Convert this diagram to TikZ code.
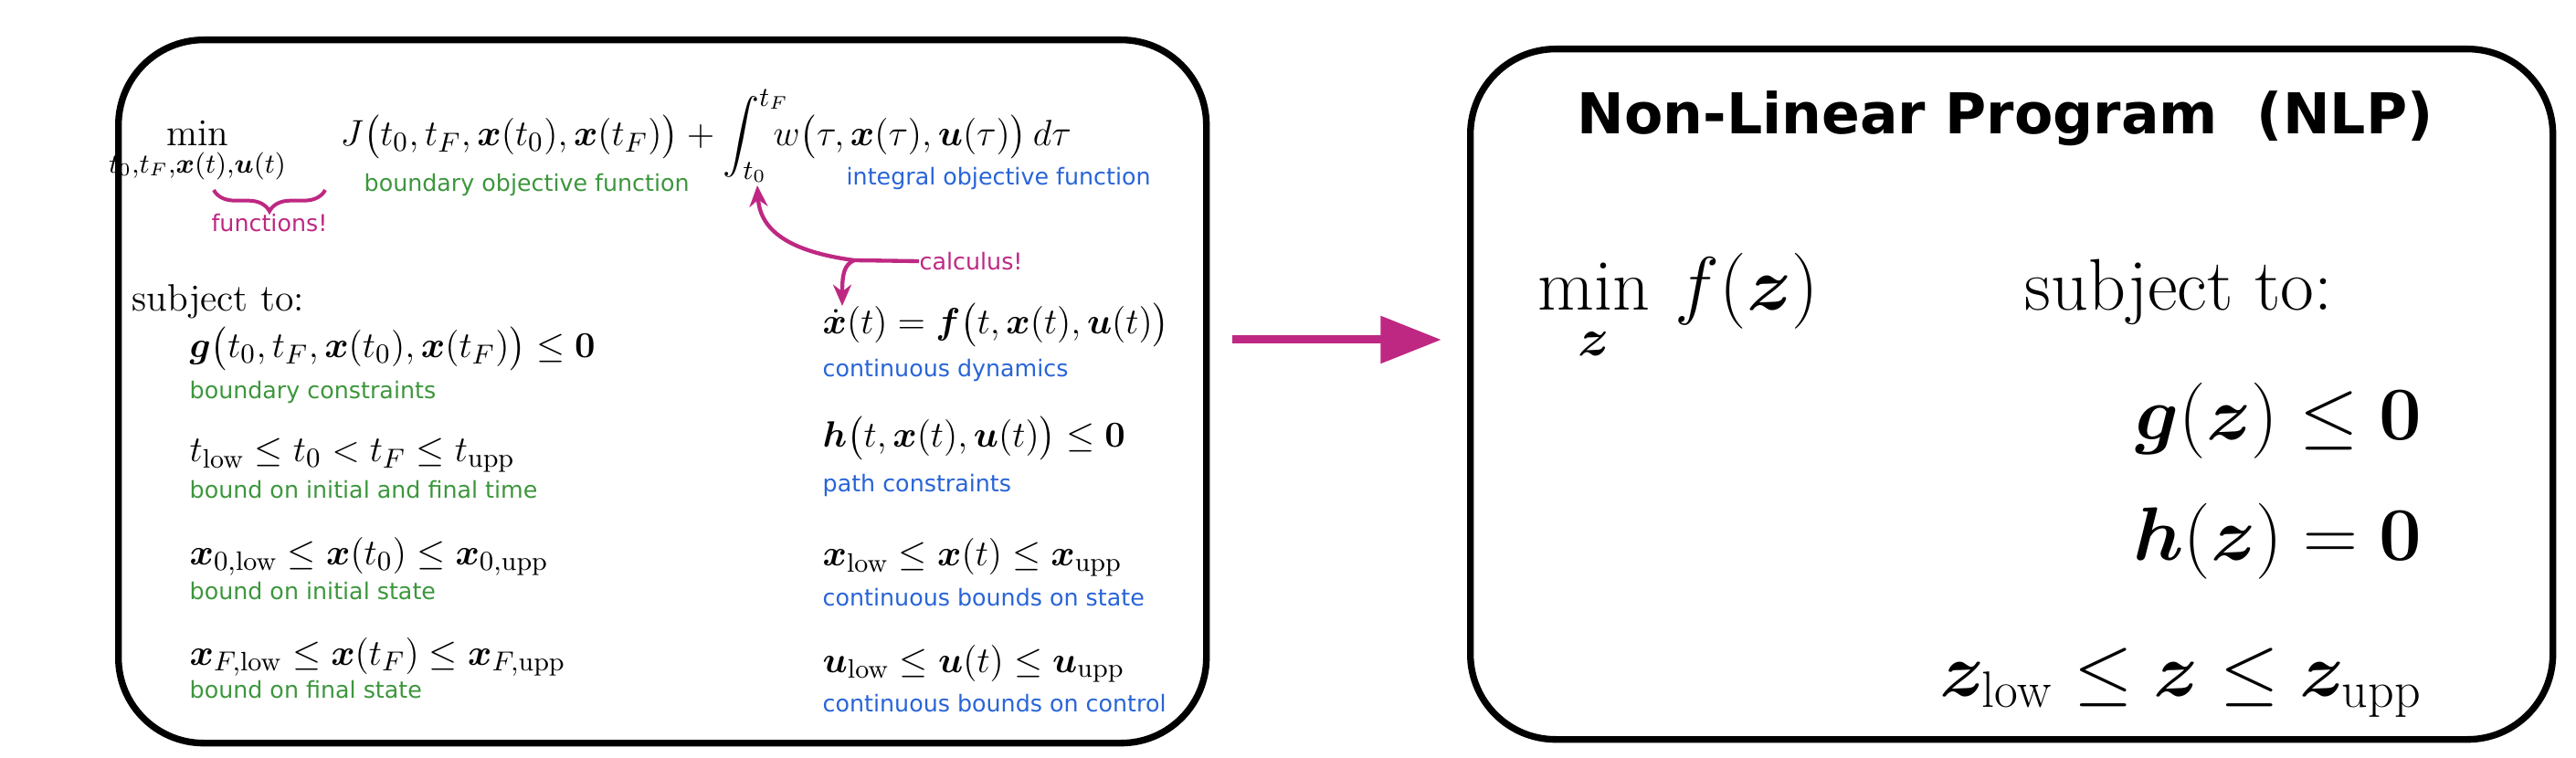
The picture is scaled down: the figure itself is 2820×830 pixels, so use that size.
\documentclass[tikz,border=0pt]{standalone}
\usepackage{amsmath,bm}
\usepackage{fontspec}
\setsansfont{DejaVu Sans}
\usetikzlibrary{decorations.pathreplacing,arrows.meta}
\definecolor{cgreen}{RGB}{60,150,60}
\definecolor{cblue}{RGB}{40,100,215}
\definecolor{cmag}{RGB}{190,40,130}
\tikzset{
  box/.style={draw,line width=2.2pt,rounded corners=28pt},
  eq/.style={font=\fontsize{12.5}{15}\selectfont,inner sep=0pt},
  gl/.style={font=\sffamily\fontsize{7.6}{9}\selectfont,text=cgreen,inner sep=0pt,anchor=west},
  bl/.style={font=\sffamily\fontsize{7.6}{9}\selectfont,text=cblue,inner sep=0pt,anchor=west},
  ml/.style={font=\sffamily\fontsize{7.6}{9}\selectfont,text=cmag,inner sep=0pt},
  big/.style={font=\fontsize{24}{29}\selectfont,inner sep=0pt},
  marr/.style={draw=cmag,line width=1.3pt,-{Stealth[length=7pt,width=6pt]}}
}
\begin{document}
\begin{tikzpicture}[x=0.3pt,y=-0.3pt]
\useasboundingbox (0,0) rectangle (2820,830);
\node[box,minimum width=1191*0.3pt,minimum height=770*0.3pt,anchor=north west] (L) at (126,40) {};
\node[box,minimum width=1185*0.3pt,minimum height=756*0.3pt,anchor=north west] (R) at (1606,50) {};
% objective
\node[eq,anchor=base] (min) at (216,160) {$\displaystyle\min_{t_0,t_F,\bm{x}(t),\bm{u}(t)}$};
\node[eq,anchor=base west] (J) at (372,160) {$J\bigl(t_0,t_F,\bm{x}(t_0),\bm{x}(t_F)\bigr)+\displaystyle\int_{t_0}^{t_F}$};
\node[eq,anchor=base west] (w) at (846,160) {$w\bigl(\tau,\bm{x}(\tau),\bm{u}(\tau)\bigr)\,d\tau$};
\coordinate (b1) at (234,208);
\coordinate (b2) at (356,208);
\draw[cmag,line width=1.2pt,decorate,decoration={brace,mirror,amplitude=7pt}] (b1) -- (b2);
\node[ml] (fn) at (295,244) {functions!};
\node[gl] (bof) at (398,203) {boundary objective function};
\node[bl] (iof) at (926,196) {integral objective function};
\node[ml,anchor=west] (calc) at (1006,286) {calculus!};
\coordinate (intb) at (829,203);
\coordinate (br) at (935,285);
\coordinate (dyn) at (922,335);
\draw[marr] (calc.west) -- (br) .. controls (860,275) and (832,250) .. (intb);
\draw[marr] (br) .. controls (924,290) and (922,300) .. (dyn);
\node[eq,anchor=west] (st) at (144,330) {subject to:};
% left column
\node[eq,anchor=base west] (c1) at (207,392) {$\bm{g}\bigl(t_0,t_F,\bm{x}(t_0),\bm{x}(t_F)\bigr)\le\bm{0}$};
\node[gl] (l1) at (207,430) {boundary constraints};
\node[eq,anchor=base west] (c2) at (207,506) {$t_{\text{low}}\le t_0<t_F\le t_{\text{upp}}$};
\node[gl] (l2) at (207,536) {bound on initial and final time};
\node[eq,anchor=base west] (c3) at (207,618) {$\bm{x}_{0,\text{low}}\le\bm{x}(t_0)\le\bm{x}_{0,\text{upp}}$};
\node[gl] (l3) at (207,647) {bound on initial state};
\node[eq,anchor=base west] (c4) at (207,728) {$\bm{x}_{F,\text{low}}\le\bm{x}(t_F)\le\bm{x}_{F,\text{upp}}$};
\node[gl] (l4) at (207,755) {bound on final state};
% right column
\node[eq,anchor=base west] (d1) at (900,366) {$\dot{\bm{x}}(t)=\bm{f}\bigl(t,\bm{x}(t),\bm{u}(t)\bigr)$};
\node[bl] (m1) at (900,406) {continuous dynamics};
\node[eq,anchor=base west] (d2) at (900,490) {$\bm{h}\bigl(t,\bm{x}(t),\bm{u}(t)\bigr)\le\bm{0}$};
\node[bl] (m2) at (900,532) {path constraints};
\node[eq,anchor=base west] (d3) at (900,620) {$\bm{x}_{\text{low}}\le\bm{x}(t)\le\bm{x}_{\text{upp}}$};
\node[bl] (m3) at (900,654) {continuous bounds on state};
\node[eq,anchor=base west] (d4) at (900,736) {$\bm{u}_{\text{low}}\le\bm{u}(t)\le\bm{u}_{\text{upp}}$};
\node[bl] (m4) at (900,770) {continuous bounds on control};
% arrow
\coordinate (a0) at (1349,372);
\coordinate (a1) at (1578,372);
\draw[cmag,line width=2.7pt,-{Triangle[length=20pt,width=15pt]}] (a0) -- (a1);
% right box
\node[font=\sffamily\bfseries\fontsize{18.5}{22}\selectfont,inner sep=0pt] (title) at (2195,130) {Non-Linear Program\ \ (NLP)};
\node[big,anchor=base west] (minf) at (1683,340) {$\displaystyle\min_{\bm{z}}\,f(\bm{z})$};
\node[big,anchor=base] (st2) at (2385,340) {subject to:};
\node[big,anchor=base east] (g) at (2652,482) {$\bm{g}(\bm{z})\le\bm{0}$};
\node[big,anchor=base east] (h) at (2652,614) {$\bm{h}(\bm{z})=\bm{0}$};
\node[big,anchor=base east] (zb) at (2652,762) {$\bm{z}_{\text{low}}\le\bm{z}\le\bm{z}_{\text{upp}}$};
\end{tikzpicture}
\end{document}
